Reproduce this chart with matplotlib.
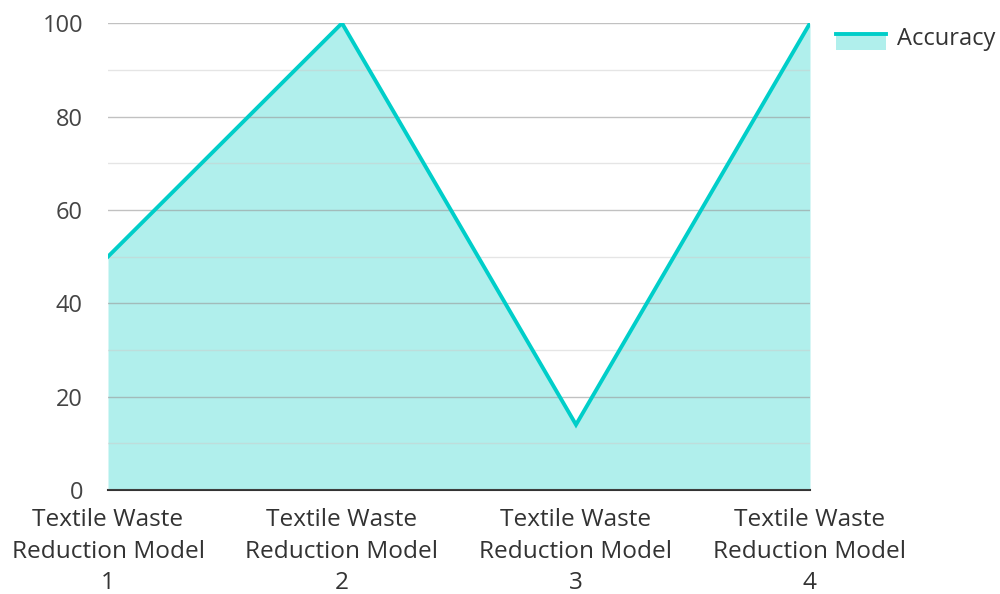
import matplotlib.pyplot as plt
from matplotlib.patches import Rectangle
from matplotlib.lines import Line2D
from matplotlib.legend_handler import HandlerBase
import numpy as np

plt.rcParams['font.family'] = ['Open Sans', 'DejaVu Sans']

models = ['Textile Waste\nReduction Model\n1', 'Textile Waste\nReduction Model\n2',
          'Textile Waste\nReduction Model\n3', 'Textile Waste\nReduction Model\n4']
accuracy = [50, 100, 14, 100]

line_color = '#00cec9'
fill_color = '#b0efec'


class AreaHandler(HandlerBase):
    # line on top of a small filled block, like the area legend
    def create_artists(self, legend, orig_handle, xdescent, ydescent, width, height, fontsize, trans):
        top = height * 0.62
        rect = Rectangle((-xdescent, top - 11), width, 11, facecolor=fill_color,
                         edgecolor='none', transform=trans)
        line = Line2D([-xdescent, -xdescent + width], [top, top], color=line_color,
                      linewidth=2.8, transform=trans)
        return [rect, line]


fig = plt.figure(figsize=(10, 5.94), dpi=100)
ax = fig.add_axes([0.108, 0.175, 0.702, 0.786])

x = np.arange(len(models))
ax.fill_between(x, accuracy, 0, color=fill_color, zorder=1, linewidth=0)
ax.plot(x, accuracy, color=line_color, linewidth=2.8, zorder=3, solid_joinstyle='miter')

ax.set_xlim(0, len(models) - 1)
ax.set_ylim(0, 100)
ax.set_yticks(np.arange(0, 101, 20))
ax.set_yticks(np.arange(10, 100, 20), minor=True)
ax.grid(axis='y', which='major', color='#999999', alpha=0.6, linewidth=1, zorder=2)
ax.grid(axis='y', which='minor', color='#cccccc', alpha=0.5, linewidth=1, zorder=2)
ax.set_axisbelow(False)

ax.set_xticks(x)
ax.set_xticklabels(models, fontsize=17.6, color='#333333', linespacing=1.42)
ax.tick_params(axis='y', which='both', length=0, labelsize=17, labelcolor='#444444', pad=18)
ax.tick_params(axis='x', length=0, pad=13)

for s in ['left', 'right', 'top']:
    ax.spines[s].set_visible(False)
ax.spines['bottom'].set_color('#333333')
ax.spines['bottom'].set_linewidth(1.5)

leg = fig.legend([object()], ['Accuracy'], handler_map={object: AreaHandler()},
                 loc='upper left', bbox_to_anchor=(0.827, 0.971),
                 frameon=False, fontsize=17, handlelength=2.1, handletextpad=0.45,
                 borderaxespad=0)
for t in leg.get_texts():
    t.set_color('#333333')

fig.savefig('out.png', dpi=100)
